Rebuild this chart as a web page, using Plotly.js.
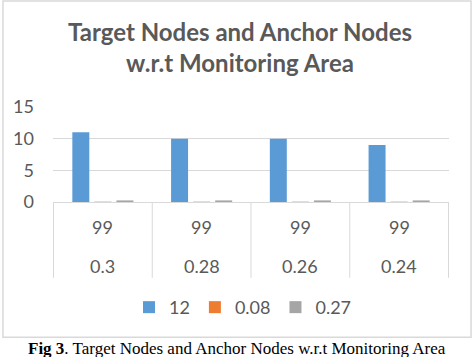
<!DOCTYPE html>
<html><head><meta charset="utf-8">
<script src="https://cdn.plot.ly/plotly-3.0.1.min.js"></script>
<style>html,body{margin:0;padding:0;background:#fff;}#chart{width:474px;height:357px;}</style>
</head><body><div id="chart"></div>
<script>
// Data
var categories = ["c1", "c2", "c3", "c4"];
var rowTop = ["99", "99", "99", "99"];
var rowBottom = ["0.3", "0.28", "0.26", "0.24"];
var seriesNames = ["12", "0.08", "0.27"];
var series12 = [11, 10, 10, 9];
var series008 = [0.05, 0.05, 0.05, 0.05];
var series027 = [0.25, 0.25, 0.25, 0.25];
var seriesColors = ["#5b9bd5", "#ed7d31", "#a5a5a5"];

var txt = "#595959";
var grid = "#d9d9d9";
var font = "Lato, 'Open Sans', sans-serif";

var traces = [series12, series008, series027].map(function (v, i) {
  return { type: "bar", x: categories, y: v, name: seriesNames[i],
    marker: { color: seriesColors[i] }, hoverinfo: "none" };
});

var ann = [];
categories.forEach(function (c, i) {
  ann.push({ xref: "x", yref: "paper", x: c, y: -0.265, text: rowTop[i], showarrow: false,
    font: { family: font, size: 18, color: txt }, yanchor: "middle" });
  ann.push({ xref: "x", yref: "paper", x: c, y: -0.67, text: rowBottom[i], showarrow: false,
    font: { family: font, size: 18, color: txt }, yanchor: "middle" });
});
ann.push({ xref: "paper", yref: "paper", x: (237 - 53) / 396, y: -1.539, xanchor: "center", yanchor: "middle",
  showarrow: false, text: "<b>Fig 3</b>. Target Nodes and Anchor Nodes w.r.t Monitoring Area",
  font: { family: "'Liberation Serif', 'Times New Roman', serif", size: 17, color: "#000" } });

var shapes = [];
for (var k = 0; k <= categories.length; k++) {
  shapes.push({ type: "line", xref: "x", yref: "paper", x0: k - 0.5, x1: k - 0.5, y0: 0, y1: -0.7977,
    line: { color: grid, width: 1 } });
}
shapes.push({ type: "rect", xref: "paper", yref: "paper", x0: -0.1263, x1: 1.0556, y0: -1.4227, y1: 2.1155,
  line: { color: grid, width: 1.5 }, layer: "below" });

var layout = {
  width: 474, height: 357,
  margin: { l: 53, r: 25, t: 107, b: 155, pad: 0 },
  paper_bgcolor: "#fff", plot_bgcolor: "#fff",
  title: { text: "Target Nodes and Anchor Nodes<br>w.r.t Monitoring Area", x: 240 / 474, xanchor: "center",
    y: 0.886, yanchor: "middle", font: { family: font, size: 24, color: txt, weight: "bold" } },
  barmode: "group", bargap: 0.33, bargroupgap: 0.23,
  showlegend: true,
  legend: { orientation: "h", x: (243 - 53) / 396, xanchor: "center", y: -1.11, yanchor: "middle",
    font: { family: font, size: 18, color: txt }, itemwidth: 30, tracegroupgap: 0 },
  xaxis: { type: "category", showticklabels: false, ticks: "", showgrid: false, showline: true,
    linecolor: grid, linewidth: 1, zeroline: false, fixedrange: true },
  yaxis: { range: [0, 15], tickvals: [0, 5, 10, 15], showgrid: true, gridcolor: grid, gridwidth: 1,
    zeroline: false, showline: false, ticks: "", ticklabelstandoff: 18,
    tickfont: { family: font, size: 18, color: txt }, fixedrange: true },
  annotations: ann, shapes: shapes
};
Plotly.newPlot("chart", traces, layout, { displayModeBar: false, staticPlot: true });
</script></body></html>
